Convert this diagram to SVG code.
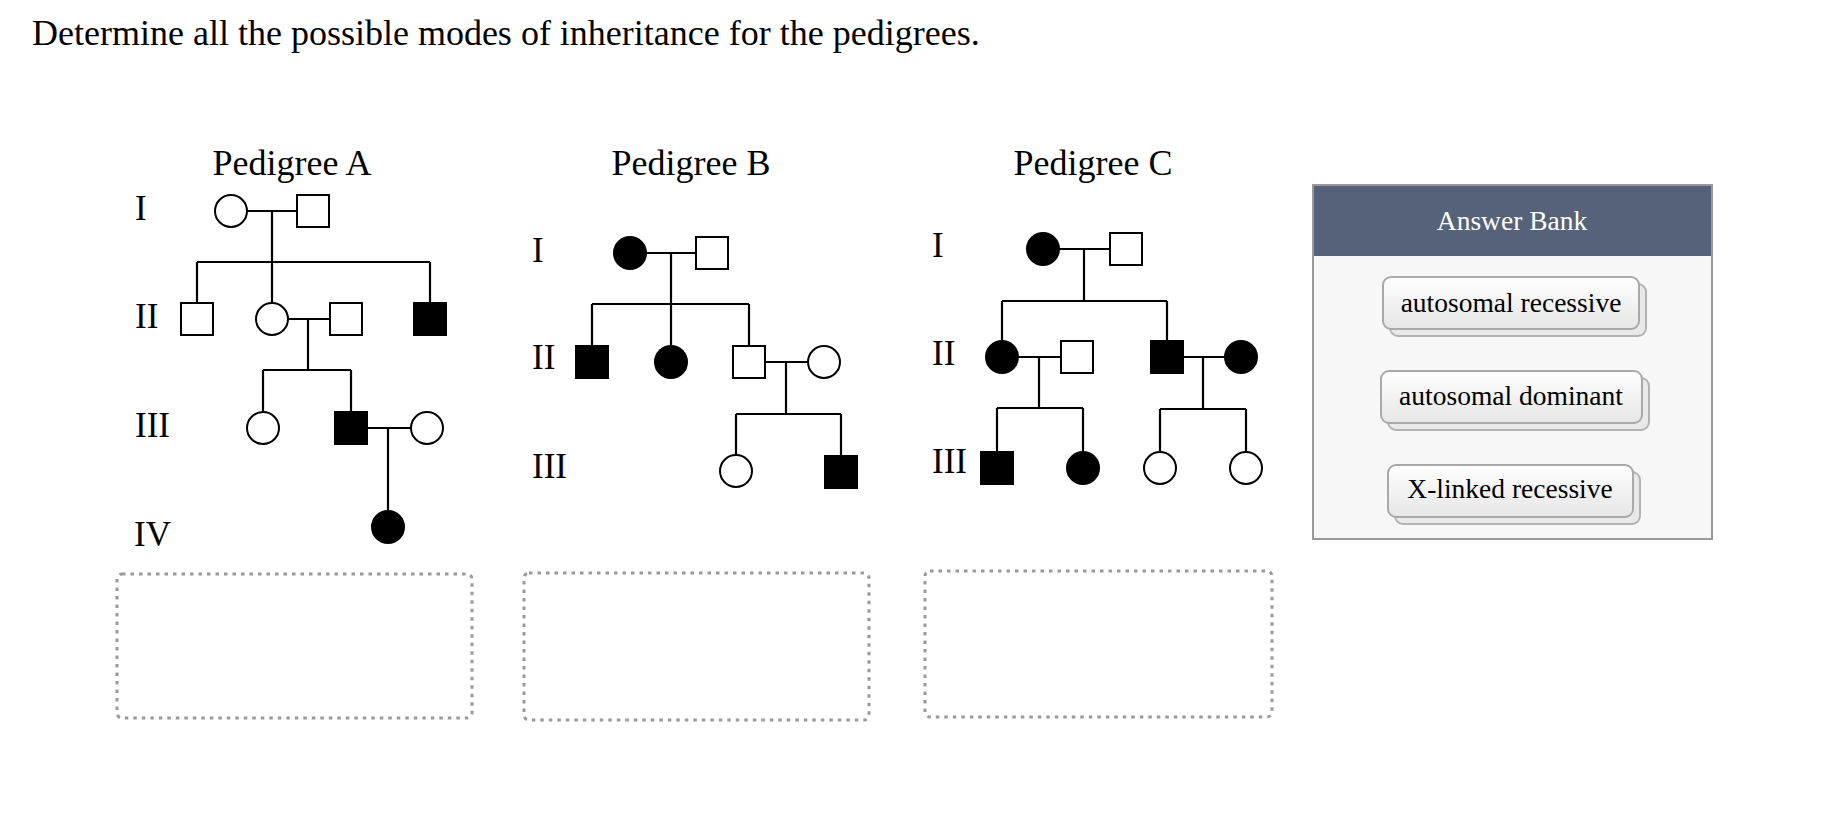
<svg xmlns="http://www.w3.org/2000/svg" width="1832" height="824" viewBox="0 0 1832 824">
<defs>
<linearGradient id="btnGrad" x1="0" y1="0" x2="0" y2="1">
<stop offset="0" stop-color="#ffffff"/>
<stop offset="1" stop-color="#e6e6e6"/>
</linearGradient>
</defs>
<style>
.t{font-family:"Liberation Serif","Times New Roman",serif;fill:#000}
.title{font-size:36px}
.ptitle{font-size:36px;text-anchor:middle}
.gen{font-size:35px}
.lbl{font-size:27.5px;text-anchor:middle}
.open{fill:#fff;stroke:#000;stroke-width:2}
.aff{fill:#000;stroke:#000;stroke-width:2}
.conn path{fill:none;stroke:#000;stroke-width:2.2}
.drop{fill:none;stroke:#9a9a9a;stroke-width:3;stroke-dasharray:3.5 5}
.btnBack{fill:#e9e9e9;stroke:#b3b3b3;stroke-width:2}
.btnFront{fill:url(#btnGrad);stroke:#a9a9a9;stroke-width:2}
</style>
<rect x="0" y="0" width="1832" height="824" fill="#fff"/>
<text class="t title" x="32" y="45">Determine all the possible modes of inheritance for the pedigrees.</text>

<!-- Pedigree A -->
<g id="pedigreeA">
<text class="t ptitle" x="292" y="175">Pedigree A</text>
<text class="t gen" x="135" y="220">I</text>
<text class="t gen" x="135" y="328">II</text>
<text class="t gen" x="135" y="437">III</text>
<text class="t gen" x="134" y="546">IV</text>
<g class="conn" id="connA">
<path d="M247,211 H297"/>
<path d="M272,211 V262"/>
<path d="M197,262 H430"/>
<path d="M197,262 V303 M272,262 V303 M430,262 V303"/>
<path d="M288,319 H330"/>
<path d="M308,319 V370"/>
<path d="M263,370 H351 M263,370 V412 M351,370 V412"/>
<path d="M367,428 H411"/>
<path d="M388,428 V511"/>
</g>
<g id="A-I-1"><circle class="open" cx="231" cy="211" r="16"/></g>
<g id="A-I-2"><rect class="open" x="297" y="195" width="32" height="32"/></g>
<g id="A-II-1"><rect class="open" x="181" y="303" width="32" height="32"/></g>
<g id="A-II-2"><circle class="open" cx="272" cy="319" r="16"/></g>
<g id="A-II-3"><rect class="open" x="330" y="303" width="32" height="32"/></g>
<g id="A-II-4"><rect class="aff" x="414" y="303" width="32" height="32"/></g>
<g id="A-III-1"><circle class="open" cx="263" cy="428" r="16"/></g>
<g id="A-III-2"><rect class="aff" x="335" y="412" width="32" height="32"/></g>
<g id="A-III-3"><circle class="open" cx="427" cy="428" r="16"/></g>
<g id="A-IV-1"><circle class="aff" cx="388" cy="527" r="16"/></g>
</g>

<!-- Pedigree B -->
<g id="pedigreeB">
<text class="t ptitle" x="691" y="175">Pedigree B</text>
<text class="t gen" x="532" y="262">I</text>
<text class="t gen" x="532" y="369">II</text>
<text class="t gen" x="532" y="478">III</text>
<g class="conn" id="connB">
<path d="M646,253 H696"/>
<path d="M671,253 V304"/>
<path d="M592,304 H749"/>
<path d="M592,304 V346 M671,304 V346 M749,304 V346"/>
<path d="M765,362 H808"/>
<path d="M786,362 V414"/>
<path d="M736,414 H841 M736,414 V455 M841,414 V456"/>
</g>
<g id="B-I-1"><circle class="aff" cx="630" cy="253" r="16"/></g>
<g id="B-I-2"><rect class="open" x="696" y="237" width="32" height="32"/></g>
<g id="B-II-1"><rect class="aff" x="576" y="346" width="32" height="32"/></g>
<g id="B-II-2"><circle class="aff" cx="671" cy="362" r="16"/></g>
<g id="B-II-3"><rect class="open" x="733" y="346" width="32" height="32"/></g>
<g id="B-II-4"><circle class="open" cx="824" cy="362" r="16"/></g>
<g id="B-III-1"><circle class="open" cx="736" cy="471" r="16"/></g>
<g id="B-III-2"><rect class="aff" x="825" y="456" width="32" height="32"/></g>
</g>

<!-- Pedigree C -->
<g id="pedigreeC">
<text class="t ptitle" x="1093" y="175">Pedigree C</text>
<text class="t gen" x="932" y="257">I</text>
<text class="t gen" x="932" y="365">II</text>
<text class="t gen" x="932" y="473">III</text>
<g class="conn" id="connC">
<path d="M1059,249 H1110"/>
<path d="M1084,249 V301"/>
<path d="M1002,301 H1167"/>
<path d="M1002,301 V341 M1167,301 V341"/>
<path d="M1018,357 H1061"/>
<path d="M1039,357 V408"/>
<path d="M997,408 H1083 M997,408 V452 M1083,408 V452"/>
<path d="M1183,357 H1225"/>
<path d="M1203,357 V409"/>
<path d="M1160,409 H1246 M1160,409 V452 M1246,409 V452"/>
</g>
<g id="C-I-1"><circle class="aff" cx="1043" cy="249" r="16"/></g>
<g id="C-I-2"><rect class="open" x="1110" y="233" width="32" height="32"/></g>
<g id="C-II-1"><circle class="aff" cx="1002" cy="357" r="16"/></g>
<g id="C-II-2"><rect class="open" x="1061" y="341" width="32" height="32"/></g>
<g id="C-II-3"><rect class="aff" x="1151" y="341" width="32" height="32"/></g>
<g id="C-II-4"><circle class="aff" cx="1241" cy="357" r="16"/></g>
<g id="C-III-1"><rect class="aff" x="981" y="452" width="32" height="32"/></g>
<g id="C-III-2"><circle class="aff" cx="1083" cy="468" r="16"/></g>
<g id="C-III-3"><circle class="open" cx="1160" cy="468" r="16"/></g>
<g id="C-III-4"><circle class="open" cx="1246" cy="468" r="16"/></g>
</g>

<!-- Drop zones -->
<g id="dropA"><rect class="drop" x="117" y="574" width="355" height="144" rx="5"/></g>
<g id="dropB"><rect class="drop" x="524" y="573" width="345" height="147" rx="5"/></g>
<g id="dropC"><rect class="drop" x="925" y="571" width="347" height="146" rx="5"/></g>

<!-- Answer bank -->
<g id="answerBank">
<rect x="1313" y="185" width="399" height="354" fill="#f7f7f7" stroke="#999" stroke-width="2"/>
<rect x="1313" y="185" width="399" height="71" fill="#556279"/>
<path d="M1313,185 H1712 V539 H1313 Z" fill="none" stroke="#999" stroke-width="2"/>
<text class="t lbl" x="1512" y="230" style="fill:#fff">Answer Bank</text>
</g>
<g id="btn-ar">
<rect class="btnBack" x="1390" y="284" width="256" height="52" rx="8"/>
<rect class="btnFront" x="1383" y="277" width="256" height="52" rx="8"/>
<text class="t lbl" x="1511" y="312">autosomal recessive</text>
</g>
<g id="btn-ad">
<rect class="btnBack" x="1388" y="378" width="261" height="52" rx="8"/>
<rect class="btnFront" x="1381" y="371" width="261" height="52" rx="8"/>
<text class="t lbl" x="1511" y="405">autosomal dominant</text>
</g>
<g id="btn-xr">
<rect class="btnBack" x="1395" y="472" width="245" height="52" rx="8"/>
<rect class="btnFront" x="1388" y="465" width="245" height="52" rx="8"/>
<text class="t lbl" x="1510" y="498">X-linked recessive</text>
</g>
</svg>
